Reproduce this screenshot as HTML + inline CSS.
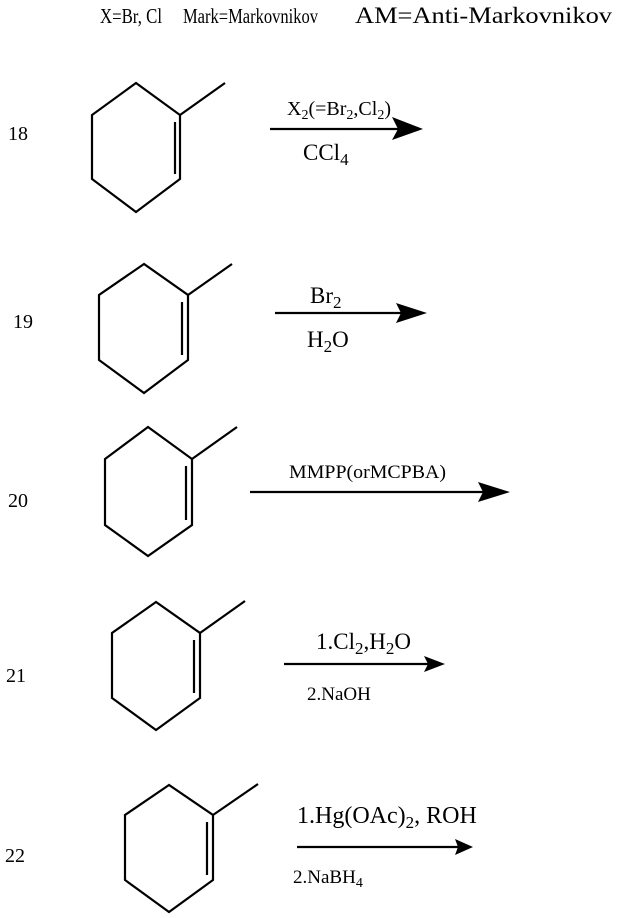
<!DOCTYPE html>
<html><head><meta charset="utf-8"><style>
html,body{margin:0;padding:0;background:#fff;}
svg{display:block;}
text{font-family:"Liberation Serif",serif;fill:#000;}
</style></head><body>
<svg width="630" height="918" viewBox="0 0 630 918" xmlns="http://www.w3.org/2000/svg">
<g font-size="21">
<text x="100" y="23" textLength="62" lengthAdjust="spacingAndGlyphs">X=Br, Cl</text>
<text x="183" y="23" textLength="135" lengthAdjust="spacingAndGlyphs">Mark=Markovnikov</text>
<text x="355" y="23" font-size="23" textLength="257" lengthAdjust="spacingAndGlyphs">AM=Anti-Markovnikov</text>
</g>
<g fill="none" stroke="#000" stroke-width="2.2" stroke-linejoin="miter">
<path d="M136,83 L92,115 L92,179 L136,212 L180,179 L180,115 Z M180,115 L225,83 M175,122 L175,174"/>
<path d="M144,264 L99,295 L99,360 L144,393 L188,360 L188,295 Z M188,295 L232,264 M182,302 L182,355"/>
<path d="M148,427 L105,459 L105,525 L148,556 L192,525 L192,459 Z M192,459 L237,427 M186,466 L186,520"/>
<path d="M156,602 L112,633 L112,698 L156,730 L200,698 L200,633 Z M200,633 L245,601 M194,640 L194,693"/>
<path d="M169,785 L125,815 L125,880 L169,912 L213,880 L213,815 Z M213,815 L258,784 M207,822 L207,875"/>
<path d="M270,129 L400,129 M275,313 L405,313 M250,492 L485,492 M284,664 L430,664 M297,847 L460,847"/>
</g>
<g fill="#000">
<path d="M423,129 L392,117 L398,129 L392,140 Z"/>
<path d="M427,313 L396,303 L401,313 L396,323 Z"/>
<path d="M510,492 L478,482 L483,492 L478,502 Z"/>
<path d="M445,664 L424,656 L428,664 L424,672 Z"/>
<path d="M473,847 L455,839 L458,847 L455,855 Z"/>
</g>
<g font-size="20">
<text x="8" y="140">18</text>
<text x="13" y="328">19</text>
<text x="8" y="507">20</text>
<text x="6" y="682">21</text>
<text x="5" y="862">22</text>
</g>
<text x="287" y="115" font-size="20">X<tspan font-size="14" dy="4">2</tspan><tspan dy="-4">(=Br</tspan><tspan font-size="14" dy="4">2</tspan><tspan dy="-4">,Cl</tspan><tspan font-size="14" dy="4">2</tspan><tspan dy="-4">)</tspan></text>
<text x="303" y="160" font-size="23">CCl<tspan font-size="17" dy="5">4</tspan></text>
<text x="310" y="303" font-size="23">Br<tspan font-size="17" dy="5">2</tspan></text>
<text x="307" y="347" font-size="23">H<tspan font-size="17" dy="5">2</tspan><tspan dy="-5">O</tspan></text>
<text x="289" y="478" font-size="19" textLength="157" lengthAdjust="spacingAndGlyphs">MMPP(orMCPBA)</text>
<text x="316" y="649" font-size="23">1.Cl<tspan font-size="17" dy="5">2</tspan><tspan dy="-5">,H</tspan><tspan font-size="17" dy="5">2</tspan><tspan dy="-5">O</tspan></text>
<text x="307" y="700" font-size="19">2.NaOH</text>
<text x="297" y="823" font-size="24">1.Hg(OAc)<tspan font-size="17" dy="5">2</tspan><tspan dy="-5">, ROH</tspan></text>
<text x="293" y="883" font-size="19">2.NaBH<tspan font-size="14" dy="4">4</tspan></text>
</svg>
</body></html>
